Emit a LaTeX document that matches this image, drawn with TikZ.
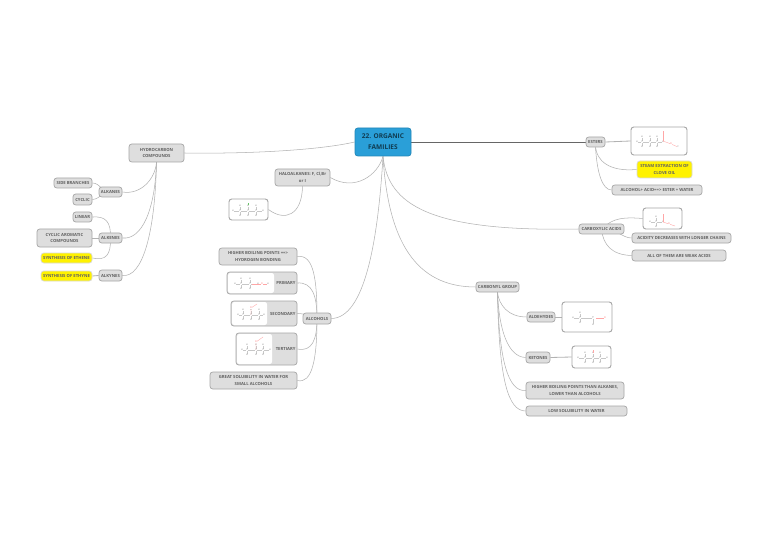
\documentclass[tikz,border=0pt]{standalone}
\usepackage{fontspec}
\setmainfont{Open Sans}
\usepackage{xcolor}
\usetikzlibrary{positioning,shapes,backgrounds}
\definecolor{topicblue}{HTML}{2A9FD8}
\definecolor{boxgrey}{HTML}{DEDEDE}
\definecolor{edgegrey}{HTML}{A6A6A6}
\definecolor{markyellow}{HTML}{FFF200}
\tikzset{
  topic/.style 2 args={draw=edgegrey, fill=boxgrey, rounded corners=2.4pt, line width=0.6pt, inner sep=0pt, align=center,
    minimum width=#1*0.03cm, minimum height=#2*0.03cm,
    font=\fontsize{3.6}{5.3}\selectfont\bfseries, text=black!62},
  marked/.style 2 args={topic={#1}{#2}, fill=markyellow, draw=black!15},
  picbox/.style 2 args={topic={#1}{#2}, fill=white, line width=0.8pt},
  sidetext/.style 2 args={topic={#1}{#2}, text width=(#1-3)*0.03cm, align=right},
  link/.style={draw=black!30, line width=0.45pt},
  bond/.style={draw=black!22, line width=0.2pt},
  redbond/.style={draw=red!35, line width=0.3pt},
  atom/.style={font=\fontsize{1.9}{2}\selectfont, text=black!55, inner sep=0pt, fill=white},
  redatom/.style={atom, text=red!70}
}
% carbon chain: centre line y, list of carbon columns, the two end atoms
\newcommand{\carbons}[4]{
  \draw[bond] (#3,#1) -- (#4,#1);
  \node[atom] at (#3,#1) {H};
  \node[atom] at (#4,#1) {H};
  \foreach \cx in {#2} {
    \draw[bond] (\cx,#1-5) -- (\cx,#1+5);
    \node[atom] at (\cx,#1) {C};
    \node[atom] at (\cx,#1-5) {H};
    \node[atom] at (\cx,#1+5) {H};
  }
}
\begin{document}
\begin{tikzpicture}[x=0.03cm, y=-0.03cm]
\useasboundingbox (0,0) rectangle (768,543);

% Central topic
\node[topic={56}{28}, draw=topicblue!85!black, fill=topicblue, font=\fontsize{5.6}{9.4}\selectfont\bfseries, text=black!62!topicblue] (root) at (383,142) {22. ORGANIC\\FAMILIES};

% Hydrocarbons
\node[topic={55}{18}] (hydro) at (156.5,153) {HYDROCARBON\\COMPOUNDS};
\node[topic={23}{10}] (alkanes) at (110.5,192) {ALKANES};
\node[topic={38}{10}] (side) at (73,183) {SIDE BRANCHES};
\node[topic={19}{11}] (cyclic) at (82.5,199.5) {CYCLIC};
\node[topic={19}{10}] (linear) at (82.5,217) {LINEAR};
\node[topic={23}{10}] (alkenes) at (110.5,238) {ALKENES};
\node[topic={55}{18}] (aromatic) at (64.5,238) {CYCLIC AROMATIC\\COMPOUNDS};
\node[marked={51}{10}] (ethene) at (66.5,258) {SYNTHESIS OF ETHENE};
\node[marked={51}{10}] (ethyne) at (66.5,276) {SYNTHESIS OF ETHYNE};
\node[topic={23}{11}] (alkynes) at (110.5,275.5) {ALKYNES};

% Halogens
\node[topic={55}{17}] (halo) at (302.5,177.5) {HALOALKANES: F, Cl,Br\\or I};
\node[picbox={39}{21}] (halopic) at (248.5,209.5) {};

% Alcohols
\node[topic={78}{17}] (boiling) at (258,256.5) {HIGHER BOILING POINTS ==>\\HYDROGEN BONDING};
\node[sidetext={70}{22}] (primary) at (262,283) {PRIMARY};
\node[sidetext={66}{25}] (secondary) at (264,313.5) {SECONDARY};
\node[sidetext={61}{32}] (tertiary) at (266.5,349) {TERTIARY};
\node[topic={87}{17}] (soluble) at (253.5,380.5) {GREAT SOLUBILITY IN WATER FOR\\SMALL ALCOHOLS};
\node[topic={28}{11}] (alcohols) at (317,318.5) {ALCOHOLS};

% white part of the three boxes
\fill[white, rounded corners=2pt] (228,273) rectangle (274,293);
\fill[white, rounded corners=2pt] (232,302) rectangle (267,325);
\fill[white, rounded corners=2pt] (237,334) rectangle (272,364);

% Carbonyl
\node[topic={43}{10}] (carbonyl) at (497.5,287) {CARBONYL GROUP};
\node[topic={28}{10}] (aldehydes) at (541,317) {ALDEHYDES};
\node[picbox={50}{30}] (aldpic) at (587,317) {};
\node[topic={24}{11}] (ketones) at (538,357.5) {KETONES};
\node[picbox={39}{22}] (ketpic) at (591.5,357) {};
\node[topic={98}{17}] (higher) at (575,390.5) {HIGHER BOILING POINTS THAN ALKANES,\\LOWER THAN ALCOHOLS};
\node[topic={101}{10}] (lowsol) at (576.5,411) {LOW SOLUBILITY IN WATER};

% Esters and acids
\node[topic={19}{10}] (esters) at (595.5,142) {ESTERS};
\node[picbox={56}{28}] (estpic) at (659,141) {};
\node[marked={55}{17}] (clove) at (664.5,169.5) {STEAM EXTRACTION OF\\CLOVE OIL};
\node[topic={90}{10}] (reaction) at (657,190) {ALCOHOL+ ACID==> ESTER + WATER};
\node[topic={45}{10}] (acids) at (601.5,229) {CARBOXYLIC ACIDS};
\node[picbox={39}{21}] (acidpic) at (662.5,218.5) {};
\node[topic={99}{10}] (acidity) at (681.5,238) {ACIDITY DECREASES WITH LONGER CHAINS};
\node[topic={94}{11}] (weak) at (679,255.5) {ALL OF THEM ARE WEAK ACIDS};

% Molecules
\carbons{211}{240,248,256}{233}{263}
\draw[draw=green!60!black!60, line width=0.25pt] (248,205.5) -- (248,203);
\carbons{358}{585,593,600}{578}{607}
\draw[redbond] (593,352.5) -- (593,349.5);
\carbons{318}{580}{573}{593}
\node[atom] at (593,318) {C};
\node[atom] at (593,325) {H};
\draw[bond] (593,319) -- (593,324);
\draw[redbond] (596,318) -- (604,318);
\node[redatom] at (605,318) {O};
\carbons{284}{241,250}{235}{258}
\draw[redbond] (252,284) -- (267,284);
\node[redatom] at (262,284) {O};
\node[atom] at (268,284) {H};
\carbons{315}{243,251,259}{238}{264}
\draw[redbond] (251,315) -- (251,308) -- (257,304);
\node[redatom] at (251,308) {O};
\carbons{350}{247,256,263}{242}{270}
\draw[redbond] (256,350) -- (256,342) -- (263,337);
\node[redatom] at (256,342) {O};
\carbons{142}{642,650,657}{637}{663}
\draw[redbond] (663,141) -- (663,131);
\draw[redbond] (663,141) -- (671,144) -- (678,147);
\node[redatom] at (671,144) {O};
\node[atom] at (678,147) {C};
\carbons{222}{656}{650}{663}
\draw[redbond] (663,222) -- (663,214);
\draw[redbond] (663,222) -- (669,224) -- (675,226);
\node[redatom] at (669,224) {O};

% Connectors go behind the boxes
\begin{scope}[on background layer]
\fill[white] (0,0) rectangle (768,543);
\draw[link] (root.west) .. controls (320,150) and (250,154) .. (hydro.east);
\draw[link] (root.south) .. controls (378,175) and (355,192) .. (halo.east);
\draw[link] (root.south) .. controls (378,240) and (365,318) .. (alcohols.east);
\draw[link] (root.south) .. controls (388,240) and (415,287) .. (carbonyl.west);
\draw[link] (root.south) .. controls (388,205) and (430,232) .. (acids.west);
\draw[link, line width=0.8pt, black!60] (root.east) -- (esters.west);
\draw[link] (halo.south) .. controls (302,215) and (285,222) .. (halopic.east);
\draw[link] (hydro.south) .. controls (155,180) and (140,195) .. (alkanes.east);
\draw[link] (hydro.south) .. controls (155,210) and (142,240) .. (alkenes.east);
\draw[link] (hydro.south) .. controls (155,235) and (142,278) .. (alkynes.east);
\draw[link] (alkanes.center) .. controls (102,192) and (100,183) .. (side.east);
\draw[link] (alkanes.center) .. controls (102,192) and (100,199) .. (cyclic.east);
\draw[link] (alkenes.center) .. controls (111,222) and (106,216) .. (linear.east);
\draw[link, line width=0.7pt] (alkenes.west) -- (aromatic.east);
\draw[link] (alkenes.center) .. controls (111,255) and (106,261) .. (ethene.east);
\draw[link, line width=0.7pt] (alkynes.west) -- (ethyne.east);
\draw[link] (alcohols.center) .. controls (317,280) and (314,254) .. (boiling.east);
\draw[link] (alcohols.center) .. controls (317,295) and (312,282) .. (primary.east);
\draw[link] (alcohols.center) .. controls (310,318) and (305,313) .. (secondary.east);
\draw[link] (alcohols.center) .. controls (317,340) and (312,352) .. (tertiary.east);
\draw[link] (alcohols.center) .. controls (317,360) and (312,384) .. (soluble.east);
\draw[link] (carbonyl.south) .. controls (499,305) and (508,317) .. (aldehydes.west);
\draw[link] (carbonyl.south) .. controls (499,330) and (508,357) .. (ketones.west);
\draw[link] (carbonyl.south) .. controls (499,360) and (508,392) .. (higher.west);
\draw[link] (carbonyl.south) .. controls (499,380) and (508,411) .. (lowsol.west);
\draw[link] (aldehydes.east) -- (aldpic.west);
\draw[link, line width=0.7pt] (ketones.east) -- (ketpic.west);
\draw[link, line width=0.7pt] (esters.east) -- (estpic.west);
\draw[link] (esters.south) .. controls (597,160) and (608,172) .. (clove.west);
\draw[link] (esters.south) .. controls (597,172) and (602,190) .. (reaction.west);
\draw[link] (acids.center) .. controls (610,222) and (615,216) .. (acidpic.west);
\draw[link] (acids.center) .. controls (618,229) and (622,238) .. (acidity.west);
\draw[link] (acids.center) .. controls (603,245) and (612,255) .. (weak.west);
\end{scope}
\end{tikzpicture}
\end{document}
